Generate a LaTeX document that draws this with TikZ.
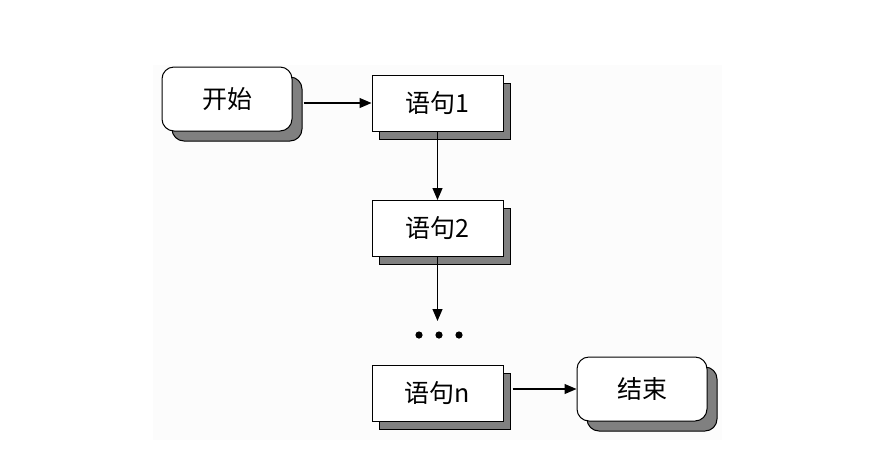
\documentclass[tikz,border=0pt]{standalone}
\usepackage{fontspec}
\newfontfamily\cjk{Noto Sans CJK SC}
\usepackage{tikz}
\usetikzlibrary{arrows.meta}
\usetikzlibrary{shapes}
\usetikzlibrary{positioning}
\usetikzlibrary{shadows}

\begin{document}
\begin{tikzpicture}[x=1pt,y=-1pt]
            \tikzset{every node/.style={font=\cjk\fontsize{25}{28}\selectfont},
                    >={Triangle[length=12pt,width=10pt]},
                    every edge/.style={draw=black,line width=1.1pt},
                    plain/.style={draw=black, line width=1pt, fill=white, inner sep=0pt},
                    stmt/.style={plain, minimum width=131pt, minimum height=56pt,
                        drop shadow={shadow xshift=7pt, shadow yshift=-8pt, opacity=1,
                        fill=gray, draw=black, line width=1pt}},
                    term/.style={plain, rounded corners=12pt, minimum width=130pt, minimum height=64pt,
                        drop shadow={shadow xshift=10pt, shadow yshift=-10pt, opacity=1,
                        fill=gray, draw=black, line width=1pt}}}
            \useasboundingbox (0,0) rectangle (884,475);
            \fill[gray!2] (153,65) rectangle (722,440);
            \node[term] (start) at (227, 99) {开始};
            \node[stmt] (s1) at (437.5, 103) {语句1};
            \node[stmt] (s2) at (437.5, 228.5) {语句2};
            \coordinate (gap) at (437.5, 321);
            \node[inner sep=0pt] (dots) at (439, 335) {\tikz[x=1pt,y=1pt]\foreach \i in {0,20,40} \fill (\i,0) circle (3.6pt);};
            \node[stmt] (sn) at (437.5, 393.5) {语句n};
            \node[term] (end) at (642, 389) {结束};
            \path [->] ([xshift=11pt]start.east |- s1.west) edge (s1.west);
            \path [->] (s1.south) edge (s2.north);
            \path [->] (s2.south) edge (gap);
            \path [->] ([xshift=9pt]sn.east |- end.west) edge (end.west);
        \end{tikzpicture}
\end{document}
